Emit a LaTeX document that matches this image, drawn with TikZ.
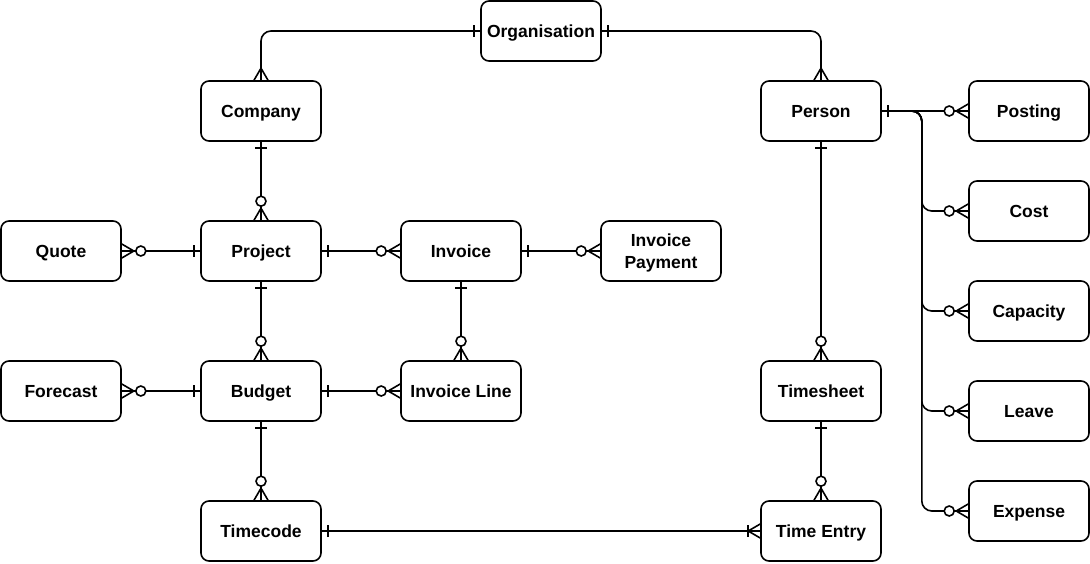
\documentclass[tikz,border=0pt]{standalone}
\usepackage{fontspec}
\setmainfont{Liberation Sans}
\tikzset{
 entbox/.style={draw, line width=1.6pt, rounded corners=8pt, minimum width=120pt, minimum height=60pt,
   font=\fontsize{17.5}{21.5}\selectfont\bfseries, align=center, inner sep=0pt},
 ent/.style={entbox, text height=12.6pt, text depth=0pt},
 enttext/.style={align=center, inner sep=0pt, font=\fontsize{17.5}{21.5}\selectfont\bfseries},
 conn/.style={line width=1.6pt, rounded corners=10pt},
 deco/.style={line width=1.6pt}
}
% #1 = anchor on box, #2 = direction (deg) pointing away from the box
\newcommand\zmany[2]{\begin{scope}[shift={(#1)},rotate=#2,deco]
 \draw (0,7) -- (12,0) -- (0,-7);
 \draw[fill=white] (19,0) circle[radius=5pt];\end{scope}}
\newcommand\crow[2]{\begin{scope}[shift={(#1)},rotate=#2,deco]
 \draw (0,7) -- (12,0) -- (0,-7);\end{scope}}
\newcommand\onemany[2]{\begin{scope}[shift={(#1)},rotate=#2,deco]
 \draw (0,7) -- (12,0) -- (0,-7);
 \draw (12,6) -- (12,-6);\end{scope}}
\newcommand\onebar[2]{\begin{scope}[shift={(#1)},rotate=#2,deco]
 \draw (6,6) -- (6,-6);\end{scope}}
\begin{document}
\begin{tikzpicture}[x=1pt,y=-1pt]
\fill[white] (0,0) rectangle (1090,563);
\useasboundingbox (0,0) rectangle (1090,563);
% entities
\node[ent] (org) at (541,31) {Organisation};
\node[ent] (comp) at (261,111) {Company};
\node[ent] (person) at (821,111) {Person};
\node[ent] (posting) at (1029,111) {Posting};
\node[ent] (cost) at (1029,211) {Cost};
\node[ent] (cap) at (1029,311) {Capacity};
\node[ent] (leave) at (1029,411) {Leave};
\node[ent] (exp) at (1029,511) {Expense};
\node[ent] (quote) at (61,251) {Quote};
\node[ent] (proj) at (261,251) {Project};
\node[ent] (inv) at (461,251) {Invoice};
\node[entbox] (pay) at (661,251) {};
\node[enttext, yshift=-1.85pt] (paytext) at (pay.center) {Invoice\\Payment};
\node[ent] (fc) at (61,391) {Forecast};
\node[ent] (bud) at (261,391) {Budget};
\node[ent] (line) at (461,391) {Invoice Line};
\node[ent] (ts) at (821,391) {Timesheet};
\node[ent] (tc) at (261,531) {Timecode};
\node[ent] (te) at (821,531) {Time Entry};
% connectors
\draw[conn] (org.west) -| (comp.north);
\draw[conn] (org.east) -| (person.north);
\draw[conn] (comp.south) -- (proj.north);
\draw[conn] (quote.east) -- (proj.west);
\draw[conn] (proj.east) -- (inv.west);
\draw[conn] (inv.east) -- (pay.west);
\draw[conn] (proj.south) -- (bud.north);
\draw[conn] (fc.east) -- (bud.west);
\draw[conn] (bud.east) -- (line.west);
\draw[conn] (inv.south) -- (line.north);
\draw[conn] (bud.south) -- (tc.north);
\draw[conn] (tc.east) -- (te.west);
\draw[conn] (ts.south) -- (te.north);
\draw[conn] (person.south) -- (ts.north);
\draw[conn] (person.east) -- (posting.west);
\draw[conn] (person.east) -- ++(40,0) |- (cost.west);
\draw[conn] (person.east) -- ++(40,0) |- (cap.west);
\draw[conn] (person.east) -- ++(40,0) |- (leave.west);
\draw[conn] (person.east) -- ++(40,0) |- (exp.west);
% ends
\onebar{org.west}{180}\crow{comp.north}{90}
\onebar{org.east}{0}\crow{person.north}{90}
\onebar{comp.south}{270}\zmany{proj.north}{90}
\zmany{quote.east}{0}\onebar{proj.west}{180}
\onebar{proj.east}{0}\zmany{inv.west}{180}
\onebar{inv.east}{0}\zmany{pay.west}{180}
\onebar{proj.south}{270}\zmany{bud.north}{90}
\zmany{fc.east}{0}\onebar{bud.west}{180}
\onebar{bud.east}{0}\zmany{line.west}{180}
\onebar{inv.south}{270}\zmany{line.north}{90}
\onebar{bud.south}{270}\zmany{tc.north}{90}
\onebar{tc.east}{0}\onemany{te.west}{180}
\onebar{ts.south}{270}\zmany{te.north}{90}
\onebar{person.south}{270}\zmany{ts.north}{90}
\onebar{person.east}{0}
\zmany{posting.west}{180}\zmany{cost.west}{180}\zmany{cap.west}{180}
\zmany{leave.west}{180}\zmany{exp.west}{180}
\end{tikzpicture}
\end{document}
